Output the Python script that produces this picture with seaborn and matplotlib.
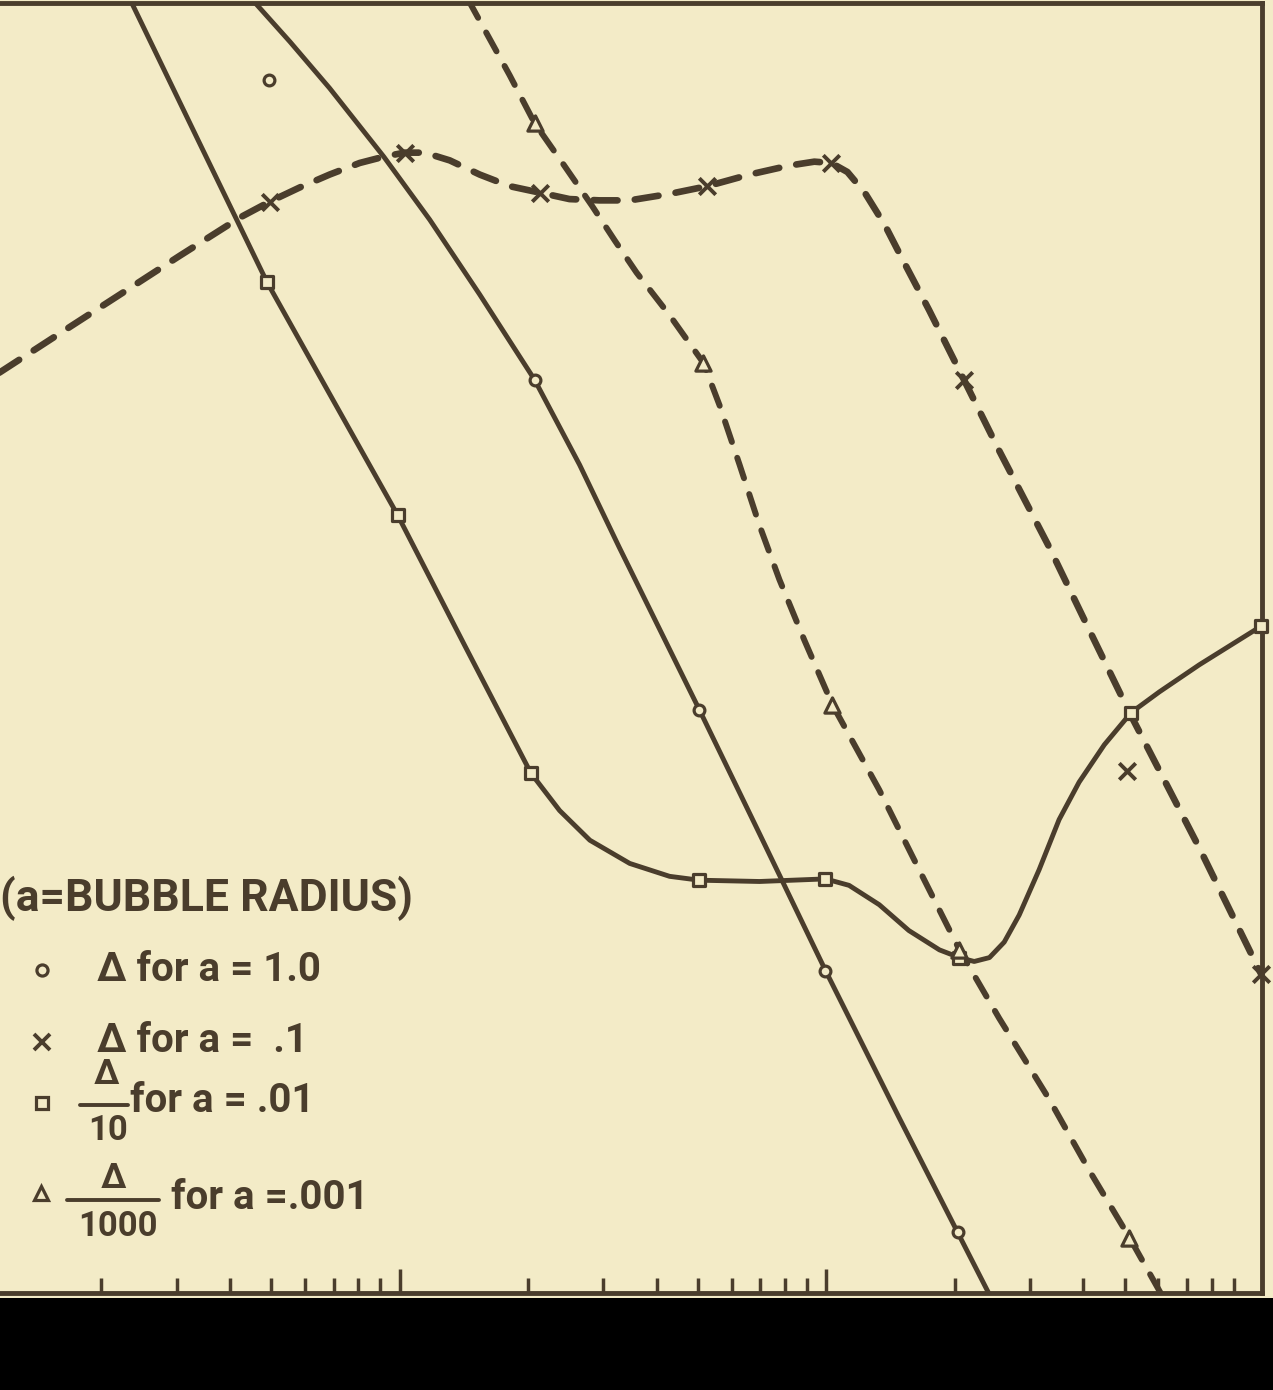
import matplotlib
matplotlib.use("Agg")
import matplotlib.pyplot as plt
import seaborn as sns
from matplotlib.lines import Line2D
from matplotlib.patches import Rectangle
from matplotlib.ticker import FixedLocator, LogLocator, NullFormatter

# Delta for a = 1.0 (solid line, circles)
x_a1 = [0.453, 0.553, 0.685, 0.917, 1.176, 1.54, 2.07, 2.64, 3.27, 5.04, 6.97, 9.95,
        14.8, 20.3, 25.4]
y_a1 = [100.2, 97.0, 93.4, 88.1, 83.2, 77.4, 70.8, 64.2, 57.8, 45.2, 35.6, 25.0,
        13.6, 4.7, -1.6]
mx_a1 = [2.07, 5.04, 9.95, 20.3]
my_a1 = [70.8, 45.2, 25.0, 4.7]
# stray point
ox_a1 = [0.494]
oy_a1 = [94.0]

# Delta for a = .1 (dashed, crosses)
x_a01 = [0.098, 0.116, 0.160, 0.221, 0.305, 0.424, 0.496, 0.583, 0.685, 0.806, 0.922,
         1.027, 1.144, 1.31, 1.54, 1.81, 2.13, 2.50, 2.94, 3.46, 4.29, 5.26, 6.60,
         8.19, 9.37, 10.27, 11.2, 12.3, 13.7, 15.2, 17.4, 21.0, 25.4, 33.3, 41.3,
         51.3, 74.8, 104.5]
y_a01 = [69.9, 71.4, 74.4, 77.4, 80.4, 83.4, 84.6, 85.7, 86.7, 87.6, 88.1,
         88.4, 88.4, 87.8, 86.7, 85.8, 85.3, 84.8, 84.7, 84.7, 85.2, 85.8, 86.7,
         87.4, 87.7, 87.6, 86.9, 85.3, 82.8, 79.9, 76.2, 70.8, 65.3, 57.8, 51.4,
         45.0, 34.5, 24.7]
mx_a01 = [0.496, 1.027, 2.13, 5.26, 10.27, 21.0, 104.5]
my_a01 = [84.6, 88.4, 85.3, 85.8, 87.6, 70.8, 24.7]
ox_a01 = [50.7]
oy_a01 = [40.5]

# Delta/10 for a = .01 (solid, squares)
x_a001 = [0.234, 0.340, 0.488, 0.693, 0.989, 1.42, 2.03, 2.37, 2.79, 3.46, 4.29, 5.04,
          6.97, 9.95, 11.3, 13.3, 15.6, 18.4, 20.5, 22.2, 24.1, 26.1, 28.3, 31.5,
          35.1, 39.1, 44.8, 51.8, 60.3, 74.8, 104.5]
y_a001 = [100.2, 89.1, 78.4, 69.4, 60.3, 50.2, 40.3, 37.4, 35.1, 33.3, 32.3, 32.0,
          31.9, 32.1, 31.6, 30.1, 28.1, 26.6, 26.0, 25.7, 26.0, 27.2, 29.3, 32.8,
          36.7, 39.6, 42.5, 45.0, 46.6, 48.7, 51.7]
mx_a001 = [0.488, 0.989, 2.03, 5.04, 9.95, 20.5, 51.8, 104.5]
my_a001 = [78.4, 60.3, 40.3, 32.0, 32.1, 26.0, 45.0, 51.7]

# Delta/1000 for a = .001 (dashed, triangles)
x_a0001 = [1.38, 1.45, 1.62, 1.81, 2.07, 2.43, 2.82, 3.19, 3.59, 4.29, 5.15, 5.62,
           6.26, 6.97, 7.76, 8.88, 10.33, 13.3, 16.5, 20.5, 25.4, 33.3, 41.3, 51.3,
           61.9]
y_a0001 = [101.4, 100.2, 97.3, 94.4, 90.7, 87.4, 84.3, 81.6, 79.1, 75.8, 72.1, 68.8,
           64.2, 59.5, 55.3, 50.6, 45.6, 39.0, 32.8, 26.6, 21.3, 15.0, 9.5, 4.3,
           -0.5]
mx_a0001 = [2.07, 5.15, 10.33, 20.5, 51.3]
my_a0001 = [90.7, 72.1, 45.6, 26.6, 4.3]

BG = "#f3ebc7"
INK = "#4a3d2c"
W, H = 1273, 1390

sns.set_theme(style="white")
plt.rcParams["font.family"] = ["Roboto", "DejaVu Sans"]

fig = plt.figure(figsize=(W / 100, H / 100), dpi=100, facecolor=BG)
ax = fig.add_axes([0, (H - 1293) / H, 1262 / W, 1290 / H])
ax.set_facecolor(BG)


def fx(px):
    return px / W


def fy(py):
    return 1 - py / H


# curves
sns.lineplot(x=x_a1, y=y_a1, ax=ax, color=INK, linewidth=3.5, sort=False,
             solid_capstyle="round", solid_joinstyle="round")
sns.lineplot(x=x_a001, y=y_a001, ax=ax, color=INK, linewidth=3.5, sort=False,
             solid_capstyle="round", solid_joinstyle="round")
sns.lineplot(x=x_a01, y=y_a01, ax=ax, color=INK, linewidth=4.8, sort=False,
             linestyle=(0, (3.6, 2.6)), dash_capstyle="round")
sns.lineplot(x=x_a0001, y=y_a0001, ax=ax, color=INK, linewidth=4.3, sort=False,
             linestyle=(0, (3.6, 2.8)), dash_capstyle="round")

# markers
mk = dict(ax=ax, edgecolor=INK, facecolor=BG, linewidth=2.3, zorder=5, clip_on=False)
sns.scatterplot(x=mx_a1 + ox_a1, y=my_a1 + oy_a1, marker="o", s=60, **mk)
sns.scatterplot(x=mx_a001, y=my_a001, marker="s", s=80, **mk)
sns.scatterplot(x=mx_a0001, y=my_a0001, marker="^", s=120, **mk)
sns.scatterplot(x=mx_a01 + ox_a01, y=my_a01 + oy_a01, marker="x", s=140, color=INK,
                linewidth=2.8, ax=ax, zorder=5, clip_on=False)

ax.set_xscale("log")
ax.set_xlim(0.1157, 104.9)
ax.set_ylim(0, 100)
ax.set_xlabel("")
ax.set_ylabel("")
ax.xaxis.set_major_locator(FixedLocator([1, 10]))
ax.xaxis.set_minor_locator(LogLocator(base=10, subs=[2, 3, 4, 5, 6, 7, 8, 9]))
ax.xaxis.set_major_formatter(NullFormatter())
ax.xaxis.set_minor_formatter(NullFormatter())
ax.set_yticks([])
ax.tick_params(axis="x", which="both", direction="in", bottom=True, top=False,
               color=INK, width=2.5)
ax.tick_params(axis="x", which="major", length=17)
ax.tick_params(axis="x", which="minor", length=11)
for side in ["top", "right", "bottom"]:
    ax.spines[side].set_color(INK)
    ax.spines[side].set_linewidth(3.5)
ax.spines["left"].set_visible(False)

# key
tk = dict(color=INK, fontsize=29, fontweight="bold", va="center", ha="left")
fk = dict(color=INK, fontsize=25, fontweight="bold", va="center", ha="center")
fig.text(fx(0), fy(898), "(a=BUBBLE RADIUS)", color=INK, fontsize=32,
         fontweight="bold", va="center", ha="left")


def key_marker(px, py, marker, ms):
    if marker == "x":
        m = Line2D([fx(px)], [fy(py)], marker="x", ms=ms, mew=2.8, color=INK,
                   linestyle="none", transform=fig.transFigure)
    else:
        m = Line2D([fx(px)], [fy(py)], marker=marker, ms=ms, mew=2.3, mec=INK,
                   mfc=BG, linestyle="none", transform=fig.transFigure)
    fig.add_artist(m)


key_marker(42, 970, "o", 8)
fig.text(fx(97), fy(970), "Δ for a = 1.0", **tk)
key_marker(42, 1042, "x", 11)
fig.text(fx(97), fy(1041), "Δ for a =  .1", **tk)

key_marker(42, 1103, "s", 9)
fig.text(fx(106), fy(1075), "Δ", **fk)
fig.add_artist(Line2D([fx(80), fx(128)], [fy(1105), fy(1105)], color=INK, lw=2.8,
                      transform=fig.transFigure))
fig.text(fx(108), fy(1131), "10", **fk)
fig.text(fx(130), fy(1101), "for a = .01", **tk)

key_marker(41, 1193, "^", 10.5)
fig.text(fx(113), fy(1178), "Δ", **fk)
fig.add_artist(Line2D([fx(67), fx(159)], [fy(1200), fy(1200)], color=INK, lw=2.8,
                      transform=fig.transFigure))
fig.text(fx(118), fy(1227), "1000", **fk)
fig.text(fx(171), fy(1198), "for a =.001", **tk)

# dark strip along the bottom edge
fig.patches.append(Rectangle((0, 0), 1, 92 / H, transform=fig.transFigure,
                             facecolor="black", edgecolor="none", zorder=10))

fig.savefig("out.png", dpi=100, facecolor=BG)
